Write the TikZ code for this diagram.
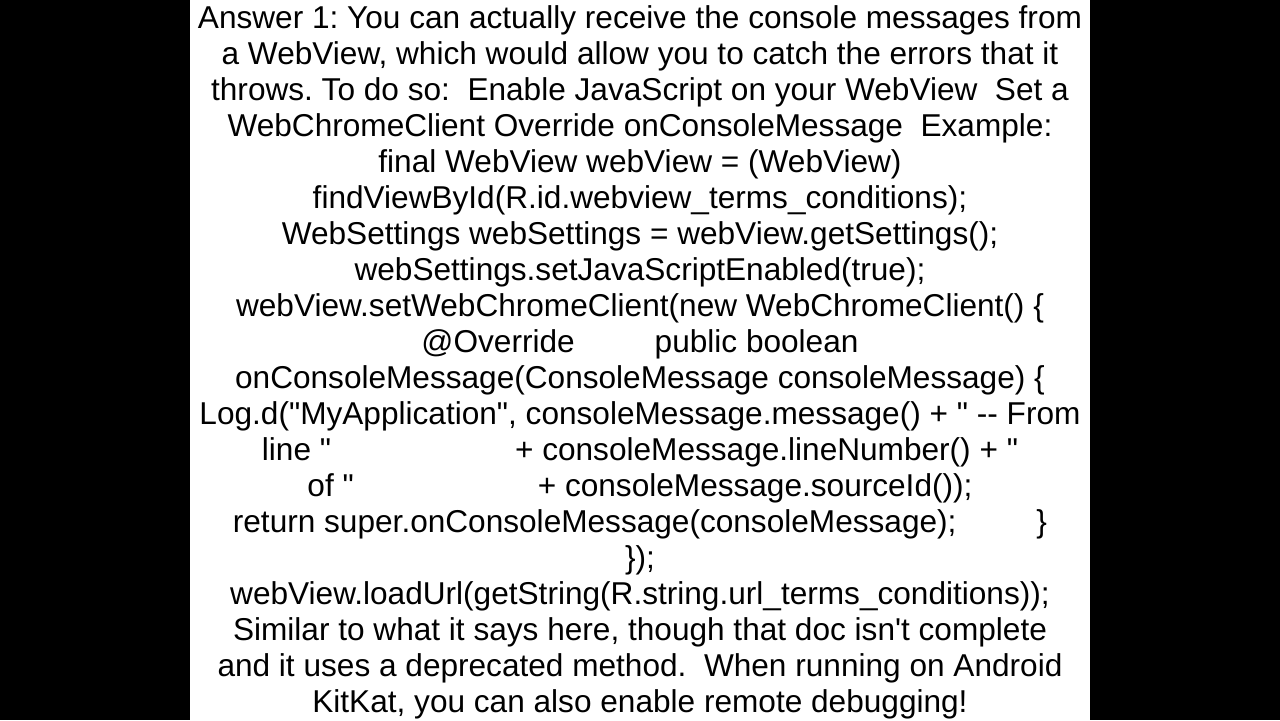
\documentclass[tikz,border=0pt]{standalone}
\usepackage{fontspec}
\setmainfont{Liberation Sans}
\frenchspacing
\tikzset{txtline/.style={anchor=base,inner sep=0pt,font=\fontsize{15.8pt}{18pt}\selectfont}}
\begin{document}
\begin{tikzpicture}[x=0.5pt,y=-0.5pt]
\fill[black](0,0)rectangle(1280,720);
\fill[white](190,0)rectangle(1090,720);
\foreach \t [count=\i] in {
{Answer 1: You can actually receive the console messages from},
{a WebView, which would allow you to catch the errors that it},
{throws. To do so:\ \ Enable JavaScript on your WebView\ \ Set a},
{WebChromeClient Override onConsoleMessage\ \ Example:},
{final WebView webView = (WebView)},
{findViewById(R.id.webview\_terms\_conditions);},
{WebSettings webSettings = webView.getSettings();},
{webSettings.setJavaScriptEnabled(true);},
{webView.setWebChromeClient(new WebChromeClient() \{},
{@Override\hspace{40pt}public boolean},
{onConsoleMessage(ConsoleMessage consoleMessage) \{},
{Log.d(\textquotedbl MyApplication\textquotedbl, consoleMessage.message() + \textquotedbl\ -{}- From},
{line \textquotedbl\hspace{92pt}+ consoleMessage.lineNumber() + \textquotedbl},
{of \textquotedbl\hspace{92pt}+ consoleMessage.sourceId());},
{return super.onConsoleMessage(consoleMessage);\hspace{40pt}\}},
{\});},
{webView.loadUrl(getString(R.string.url\_terms\_conditions));},
{Similar to what it says here, though that doc isn\textquotesingle t complete},
{and it uses a deprecated method.\ \ When running on Android},
{KitKat, you can also enable remote debugging!}}
\node[txtline](l\i) at (640,28+36*\i-36) {\t};
\end{tikzpicture}
\end{document}
